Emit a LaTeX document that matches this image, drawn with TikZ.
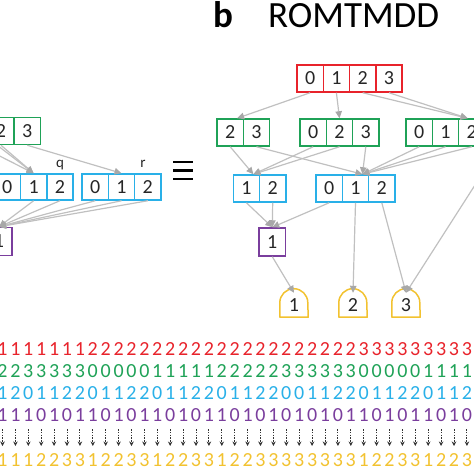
\documentclass[tikz,border=0pt]{standalone}
\usepackage{fontspec}
\setmainfont{Carlito}
\usetikzlibrary{arrows.meta,calc}
\definecolor{redc}{HTML}{E8232B}
\definecolor{greenc}{HTML}{1FA257}
\definecolor{cyanc}{HTML}{29B0E8}
\definecolor{purplec}{HTML}{7A3E9D}
\definecolor{goldc}{HTML}{F2C230}
\definecolor{digitc}{HTML}{262626}
\definecolor{edgec}{HTML}{C0C0C0}
\definecolor{tipc}{HTML}{A8A8A8}
\begin{document}
\begin{tikzpicture}[x=1pt,y=-1pt,
  cell/.style={draw, line width=1.5pt, minimum width=26.3pt, minimum height=27pt, inner sep=0pt, font=\fontsize{20}{20}\selectfont, text=digitc},
  redcell/.style={cell, draw=redc},
  greencell/.style={cell, draw=greenc},
  cyancell/.style={cell, draw=cyanc},
  purplecell/.style={cell, draw=purplec},
  termtext/.style={inner sep=0pt, minimum width=28pt, minimum height=24pt, font=\fontsize{20}{20}\selectfont, text=digitc},
  termline/.style={draw=goldc, line width=1.5pt, line join=round},
  edge/.style={draw=edgec, line width=1.2pt, -{Triangle[length=7pt,width=6.5pt,color=tipc]}},
  plainedge/.style={draw=edgec, line width=1.2pt},
  varlabel/.style={font=\fontsize{15}{15}\selectfont, text=digitc, inner sep=0pt},
  bdig/.style={font=\fontsize{20}{20}\selectfont, inner sep=0pt},
  darr/.style={draw=black!80, line width=0.9pt, dash pattern=on 1.6pt off 1.2pt, -{Stealth[length=4.5pt,width=4.5pt]}},
  eqbar/.style={draw=black, line width=2.8pt}
]
\useasboundingbox (0,0) rectangle (474,474);
\clip (0,0) rectangle (474,474);

% ---------- title ----------
\node[anchor=base west, inner sep=0pt, font=\fontsize{37}{37}\selectfont\bfseries] (tb) at (213,27) {b};
\node[anchor=base west, inner sep=0pt, font=\fontsize{37}{37}\selectfont] (tt) at (268,27) {ROMTMDD};

% ---------- left panel (cropped) ----------
\node[greencell] (G0) at (1,131) {2};
\node[greencell] (G1) at (27.3,131) {3};
\node[cyancell, minimum height=26pt] (Q0) at (7.3,187) {0};
\node[cyancell, minimum height=26pt] (Q1) at (33.6,187) {1};
\node[cyancell, minimum height=26pt] (Q2) at (59.9,187) {2};
\node[cyancell, minimum height=26pt] (S0) at (95.2,187) {0};
\node[cyancell, minimum height=26pt] (S1) at (121.5,187) {1};
\node[cyancell, minimum height=26pt] (S2) at (147.8,187) {2};
\node[varlabel] (lq) at (60,165) {q};
\node[varlabel] (lr) at (143,164) {r};
\node[purplecell, minimum height=28pt] (P0) at (-1,241.5) {1};

\coordinate (offL1) at (-20,132);
\coordinate (offL2) at (-20,146);
\draw[edge] (offL1) -- (Q1.north);
\draw[edge] (offL2) -- (Q1.north);
\draw[edge] (G0.south) -- (Q1.north);
\draw[edge] (G1.south) -- (S1.north);
\foreach \n in {Q1,Q2,S0,S1,S2} { \draw[edge] (\n.south) -- (P0.north); }

% equivalence sign
\draw[eqbar] (173,162) -- (193,162);
\draw[eqbar] (173,170.5) -- (193,170.5);
\draw[eqbar] (173,179) -- (193,179);

% ---------- right panel ----------
\node[redcell] (R0) at (310.1,78.5) {0};
\node[redcell] (R1) at (336.4,78.5) {1};
\node[redcell] (R2) at (362.7,78.5) {2};
\node[redcell] (R3) at (389.0,78.5) {3};

\node[greencell] (A0) at (230.2,132.5) {2};
\node[greencell] (A1) at (256.5,132.5) {3};
\node[greencell] (B0) at (313.2,132.5) {0};
\node[greencell] (B1) at (339.5,132.5) {2};
\node[greencell] (B2) at (365.8,132.5) {3};
\node[greencell] (C0) at (419.2,132.5) {0};
\node[greencell] (C1) at (445.5,132.5) {1};
\node[greencell] (C2) at (471.8,132.5) {2};

\node[cyancell] (D0) at (246.4,188.5) {1};
\node[cyancell] (D1) at (272.7,188.5) {2};
\node[cyancell] (E0) at (329.2,188.5) {0};
\node[cyancell] (E1) at (355.5,188.5) {1};
\node[cyancell] (E2) at (381.8,188.5) {2};

\node[purplecell, minimum height=28pt] (F0) at (272.3,242) {1};

\node[termtext] (Y1) at (294,305) {1};
\node[termtext] (Y2) at (353,305) {2};
\node[termtext] (Y3) at (406,305) {3};
\foreach \n in {Y1,Y2,Y3} {
  \draw[termline] (\n.south west) -- ++(0,-14.5) arc[start angle=180, end angle=0, radius=14pt] -- (\n.south east) -- cycle;
}

\coordinate (At) at ($(A0.north)!0.5!(A0.north east)$);
\coordinate (Dt) at ($(D0.north)!0.5!(D0.north east)$);
\coordinate (Et) at ($(E1.north)!0.5!(E1.north east)$);
\coordinate (Ct) at ($(C2.north)!0.3!(C2.north west)$);
\coordinate (Yt3) at ($(Y3.north)+(0,-2)$);
\coordinate (offR) at (500,146);

\draw[edge] (R0.south) -- (At);
\draw[edge] (R1.south) -- (B1.north);
\draw[edge] (R2.south) -- (Ct);
\draw[edge] (R3.south) -- (Ct);

\draw[edge] (A0.south) -- (Dt);
\draw[edge] (B0.south) -- (Dt);
\draw[edge] (B1.south) -- (Dt);
\draw[edge] (A1.south) -- (Et);
\draw[edge] (B2.south) -- (Et);
\draw[edge] (C0.south) -- (Et);
\draw[edge] (C1.south) -- (Et);
\draw[edge] (C2.south) -- (Et);

\draw[edge] (D0.south) -- (F0.north);
\draw[edge] (D1.south) -- (F0.north);
\draw[edge] (E0.south) -- (F0.north);

\draw[edge] (F0.south) -- (Y1.north);
\draw[edge] (E1.south) -- (Y2.north);
\draw[edge] (E2.south) -- (Y3.north);
\draw[edge] (offR) -- (Y3.north);

% ---------- bottom rows ----------
\foreach \d [count=\i from 0] in {1,1,1,1,1,1,1,2,2,2,2,2,2,2,2,2,2,2,2,2,2,2,2,2,2,2,2,2,3,3,3,3,3,3,3,3,3}
  { \node[bdig, text=redc] (ra\i) at ({2.5+12.9*\i},349) {\d}; }
\foreach \d [count=\i from 0] in {2,2,3,3,3,3,3,0,0,0,0,0,1,1,1,1,1,2,2,2,2,2,3,3,3,3,3,3,0,0,0,0,0,1,1,1,1}
  { \node[bdig, text=greenc] (ga\i) at ({2.5+12.9*\i},371) {\d}; }
\foreach \d [count=\i from 0] in {1,2,0,1,1,2,2,0,1,1,2,2,0,1,1,2,2,0,1,1,2,2,0,0,1,1,2,2,0,1,1,2,2,0,1,1,2}
  { \node[bdig, text=cyanc] (ca\i) at ({2.5+12.9*\i},393) {\d}; }
\foreach \d [count=\i from 0] in {1,1,1,0,1,0,1,1,0,1,0,1,1,0,1,0,1,1,0,1,0,1,0,1,0,1,0,1,1,0,1,0,1,1,0,1,0}
  { \node[bdig, text=purplec] (pa\i) at ({2.5+12.9*\i},415) {\d}; }
\foreach \i in {0,...,36} {
  \coordinate (at\i) at ({2.5+12.9*\i},429);
  \coordinate (ab\i) at ({2.5+12.9*\i},446);
  \draw[darr] (at\i) -- (ab\i);
}
\foreach \d [count=\i from 0] in {1,1,1,2,2,3,3,1,2,2,3,3,1,2,2,3,3,1,2,2,3,3,3,3,3,3,3,3,1,2,2,3,3,1,2,2,3}
  { \node[bdig, text=goldc] (ya\i) at ({2.5+12.9*\i},460) {\d}; }
\end{tikzpicture}
\end{document}
